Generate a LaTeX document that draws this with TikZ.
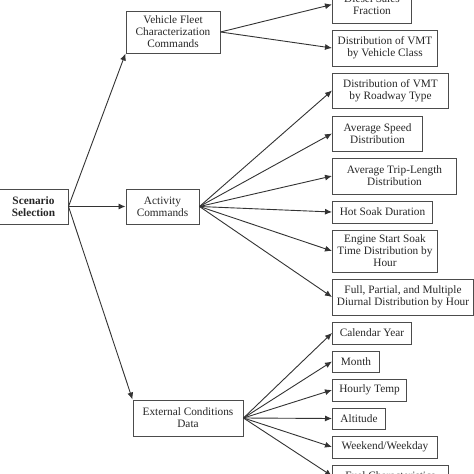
\documentclass[tikz,border=0pt]{standalone}
\usepackage{fontspec}
\setmainfont{Liberation Serif}
\usetikzlibrary{arrows.meta}

\tikzset{
  cmdbox/.style={draw=black!70, line width=1pt, align=center, inner sep=1pt,
    font=\fontsize{11.3}{12}\selectfont, text=black!85},
  leafbox/.style={cmdbox, anchor=west},
  link/.style={draw=black!80, line width=0.9pt, -{Latex[length=7pt,width=6pt]}}
}

\begin{document}
\begin{tikzpicture}[x=1pt, y=-1pt]
          \useasboundingbox (0,0) rectangle (474,474);
          \clip (0,0) rectangle (474,474);
          % left and middle column
          \node[cmdbox, minimum width=69pt, minimum height=35pt, font=\fontsize{11.3}{12}\selectfont\bfseries]
            (scen) at (33.5,206.5) {Scenario\\Selection};
          \node[cmdbox, minimum width=94pt, minimum height=42pt]
            (fleet) at (173,32) {Vehicle Fleet\\Characterization\\Commands};
          \node[cmdbox, minimum width=73pt, minimum height=35pt]
            (activity) at (162.5,206.5) {Activity\\Commands};
          \node[cmdbox, minimum width=110pt, minimum height=36pt]
            (extcond) at (188,418) {External Conditions\\Data};
          % fleet commands
          \node[leafbox, minimum width=79pt, minimum height=37pt]
            (diesel) at (332,4.5) {Diesel Sales\\Fraction};
          \node[leafbox, minimum width=105pt, minimum height=36pt]
            (vmtclass) at (332,48) {Distribution of VMT\\by Vehicle Class};
          % activity commands
          \node[leafbox, minimum width=116pt, minimum height=35pt]
            (vmtroad) at (332,90.5) {Distribution of VMT\\by Roadway Type};
          \node[leafbox, minimum width=90pt, minimum height=35pt]
            (avgspeed) at (332,133.5) {Average Speed\\Distribution};
          \node[leafbox, minimum width=124pt, minimum height=36pt]
            (triplen) at (332,176) {Average Trip-Length\\Distribution};
          \node[leafbox, minimum width=100pt, minimum height=22pt]
            (hotsoak) at (332,212) {Hot Soak Duration};
          \node[leafbox, minimum width=105pt, minimum height=42pt]
            (startsoak) at (332,251) {Engine Start Soak\\Time Distribution by\\Hour};
          \node[leafbox, minimum width=141pt, minimum height=36pt]
            (diurnal) at (332,297) {Full, Partial, and Multiple\\Diurnal Distribution by Hour};
          % external conditions
          \node[leafbox, minimum width=79pt, minimum height=22pt]
            (calyear) at (332,333) {Calendar Year};
          \node[leafbox, minimum width=47pt, minimum height=21pt]
            (month) at (332,361.5) {Month};
          \node[leafbox, minimum width=74pt, minimum height=22pt]
            (hourtemp) at (332,390) {Hourly Temp};
          \node[leafbox, minimum width=53pt, minimum height=21pt]
            (altitude) at (332,418.5) {Altitude};
          \node[leafbox, minimum width=105pt, minimum height=22pt]
            (weekday) at (332,447) {Weekend/Weekday};
          \node[leafbox, minimum width=116pt, minimum height=22pt]
            (fuel) at (332,476) {Fuel Characteristics};
          % connectors
          \draw[link] (scen.east) -- (fleet.south west);
          \draw[link] (scen.east) -- (activity.west);
          \draw[link] (scen.east) -- (extcond.north west);
          \draw[link] (fleet.east) -- (diesel.west);
          \draw[link] (fleet.east) -- (vmtclass.west);
          \draw[link] (activity.east) -- (vmtroad.west);
          \draw[link] (activity.east) -- (avgspeed.west);
          \draw[link] (activity.east) -- (triplen.west);
          \draw[link] (activity.east) -- (hotsoak.west);
          \draw[link] (activity.east) -- (startsoak.west);
          \draw[link] (activity.east) -- (diurnal.west);
          \draw[link] (extcond.east) -- (calyear.west);
          \draw[link] (extcond.east) -- (month.west);
          \draw[link] (extcond.east) -- (hourtemp.west);
          \draw[link] (extcond.east) -- (altitude.west);
          \draw[link] (extcond.east) -- (weekday.west);
          \draw[link] (extcond.east) -- (fuel.west);
        \end{tikzpicture}
\end{document}
